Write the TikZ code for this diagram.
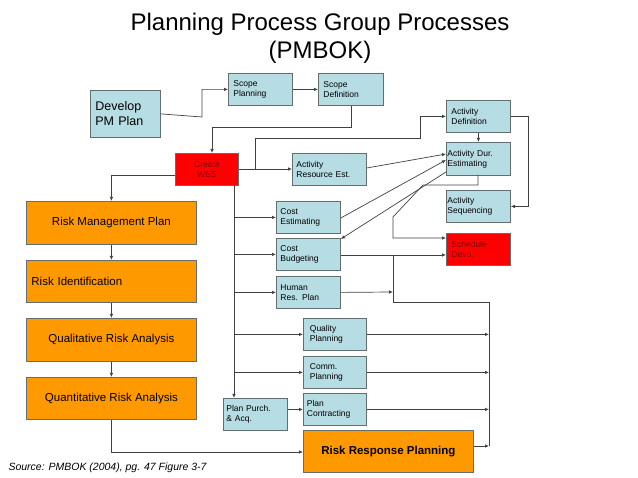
\documentclass[tikz,border=0pt]{standalone}
\usepackage{fontspec}
\setmainfont{Liberation Sans}
\usetikzlibrary{arrows.meta}
\definecolor{lb}{RGB}{183,221,228}
\definecolor{org}{RGB}{255,153,0}
\definecolor{bord}{RGB}{100,110,110}
\begin{document}
\begin{tikzpicture}[x=1pt,y=-1pt,
  bx/.style={draw=bord,line width=0.8pt,fill=lb,inner sep=0pt},
  rd/.style={bx,fill=red,text=red!50!black},
  ob/.style={bx,fill=org},
  sm/.style={font=\fontsize{8.5}{10}\selectfont,align=left},
  big/.style={font=\fontsize{11.5}{13}\selectfont},
  ar/.style={-{Latex[length=4pt,width=3.5pt]},line width=0.7pt,draw=black!75},
  ln/.style={line width=0.7pt,draw=black!75}]
\useasboundingbox (0,0) rectangle (638,478);
\node[font=\fontsize{24}{28}\selectfont,align=center] (title) at (320,38) {Planning Process Group Processes\\(PMBOK)};
% boxes
\newcommand{\bxat}[6]{\node[#1,minimum width=#4-#2,minimum height=#5-#3,anchor=north west] (#6) at (#2,#3) {};}
\node[bx,minimum width=70,minimum height=47,anchor=north west,font=\fontsize{12.5}{15}\selectfont,align=left,text width=60] (dev) at (90,90) {Develop\\PM Plan};
\node[bx,sm,minimum width=64,minimum height=32,anchor=north west,text width=54] (sp) at (228,73) {Scope\\Planning};
\node[bx,sm,minimum width=65,minimum height=32,anchor=north west,text width=55] (sd) at (318,73) {Scope\\Definition};
\node[bx,sm,minimum width=64,minimum height=32,anchor=north west,text width=54] (ad) at (446,100) {Activity\\Definition};
\node[bx,sm,minimum width=64,minimum height=33,anchor=north west,text width=62] (ade) at (446,142) {Activity Dur.\\Estimating};
\node[bx,sm,minimum width=64,minimum height=32,anchor=north west,text width=62] (as) at (446,190) {Activity\\Sequencing};
\node[rd,sm,minimum width=64,minimum height=32,anchor=north west,text width=54] (sch) at (446,233) {Schedule\\Devo.};
\node[rd,sm,minimum width=63,minimum height=32,anchor=north west,align=center,text width=63] (wbs) at (175,153) {Create\\WBS};
\node[bx,sm,minimum width=74,minimum height=32,anchor=north west,text width=66] (are) at (292,153) {Activity\\Resource Est.};
\node[bx,sm,minimum width=64,minimum height=32,anchor=north west,text width=56] (ce) at (276,201) {Cost\\Estimating};
\node[bx,sm,minimum width=64,minimum height=32,anchor=north west,text width=56] (cb) at (276,238) {Cost\\Budgeting};
\node[bx,sm,minimum width=64,minimum height=32,anchor=north west,text width=56] (hr) at (276,276) {Human\\Res. Plan};
\node[bx,sm,minimum width=63,minimum height=32,anchor=north west,text width=50] (qp) at (303,318) {Quality\\Planning};
\node[bx,sm,minimum width=63,minimum height=32,anchor=north west,text width=50] (cp) at (303,356) {Comm.\\Planning};
\node[bx,sm,minimum width=63,minimum height=32,anchor=north west,text width=56] (pc) at (303,393) {Plan\\Contracting};
\node[bx,sm,minimum width=64,minimum height=32,anchor=north west,text width=58] (pp) at (223,398) {Plan Purch.\\\& Acq.};
\node[ob,minimum width=170,minimum height=42,anchor=north west,font=\fontsize{11.5}{13}\selectfont\bfseries] (rrp) at (303,430) {Risk Response Planning};
\node[ob,big,minimum width=170,minimum height=43,anchor=north west] (rmp) at (26,201) {Risk Management Plan};
\node[ob,big,minimum width=170,minimum height=42,anchor=north west,text width=160,align=left] (ri) at (26,260) {Risk Identification};
\node[ob,big,minimum width=170,minimum height=43,anchor=north west] (qra) at (26,318) {Qualitative Risk Analysis};
\node[ob,big,minimum width=170,minimum height=42,anchor=north west] (qnra) at (26,377) {Quantitative Risk Analysis};
\node[anchor=west,font=\fontsize{10.5}{12}\selectfont\itshape] (src) at (5,468) {Source: PMBOK (2004), pg. 47 Figure 3-7};
% coordinates
\coordinate (j1) at (255,169);
\coordinate (jv) at (234,185);
\coordinate (jc) at (393,255);
\coordinate (rv) at (489,302);
% connectors
\draw[ar] (dev.east) -- (202,117) |- (sp.west);
\draw[ar] (sp) -- (sd);
\draw[ar] (sd.south) |- (212,127) -- (212,153);
\draw[ln] (wbs.east |- j1) -- (j1);
\draw[ar] (j1) -- (are.west |- j1);
\draw[ar] (j1) |- (420,138) |- (ad.west);
\draw[ar] (wbs.west |- 0,175) -| (rmp.north);
\draw[ar] (jv) -- (pp.north -| jv);
\draw[ar] (jv |- ce.west) -- (ce.west);
\draw[ar] (jv |- cb.west) -- (cb.west);
\draw[ar] (jv |- hr.west) -- (hr.west);
\draw[ar] (jv |- qp.west) -- (qp.west);
\draw[ar] (jv |- cp.west) -- (cp.west);
\draw[ar] (ad.south) -- (ade.north);
\draw[ar] (ad.east |- 0,116) -- (528,116) |- (as.east);
\draw[ar] (are.east |- 0,168) -- (ade.west |- 0,154);
\draw[ar] (ce.east |- 0,218) -- (ade.west |- 0,160);
\draw[ar] (ade.west |- 0,172) -- (cb.east |- 0,239);
\draw[ar] (478,175) -- (478,185) -- (423,185) -- (393,217) -- (393,238) -- (sch.west |- 0,238);
\draw[ar] (cb.east |- jc) -- (sch.west |- jc);
\draw[ln] (jc) |- (rv) -- (rv |- 0,446);
\draw[ar] (hr.east) -- (393,292);
\draw[ar] (qp.east) -- (rv |- qp.east);
\draw[ar] (cp.east) -- (rv |- cp.east);
\draw[ar] (pc.east) -- (rv |- pc.east);
\draw[ar] (rrp.east |- 0,446) -- (rv |- 0,446);
\draw[ar] (pp.east |- pc.west) -- (pc.west);
\draw[ar] (rmp) -- (ri);
\draw[ar] (ri) -- (qra);
\draw[ar] (qra) -- (qnra);
\draw[ar] (qnra.south) |- (rrp.west |- 0,452);
\end{tikzpicture}
\end{document}
